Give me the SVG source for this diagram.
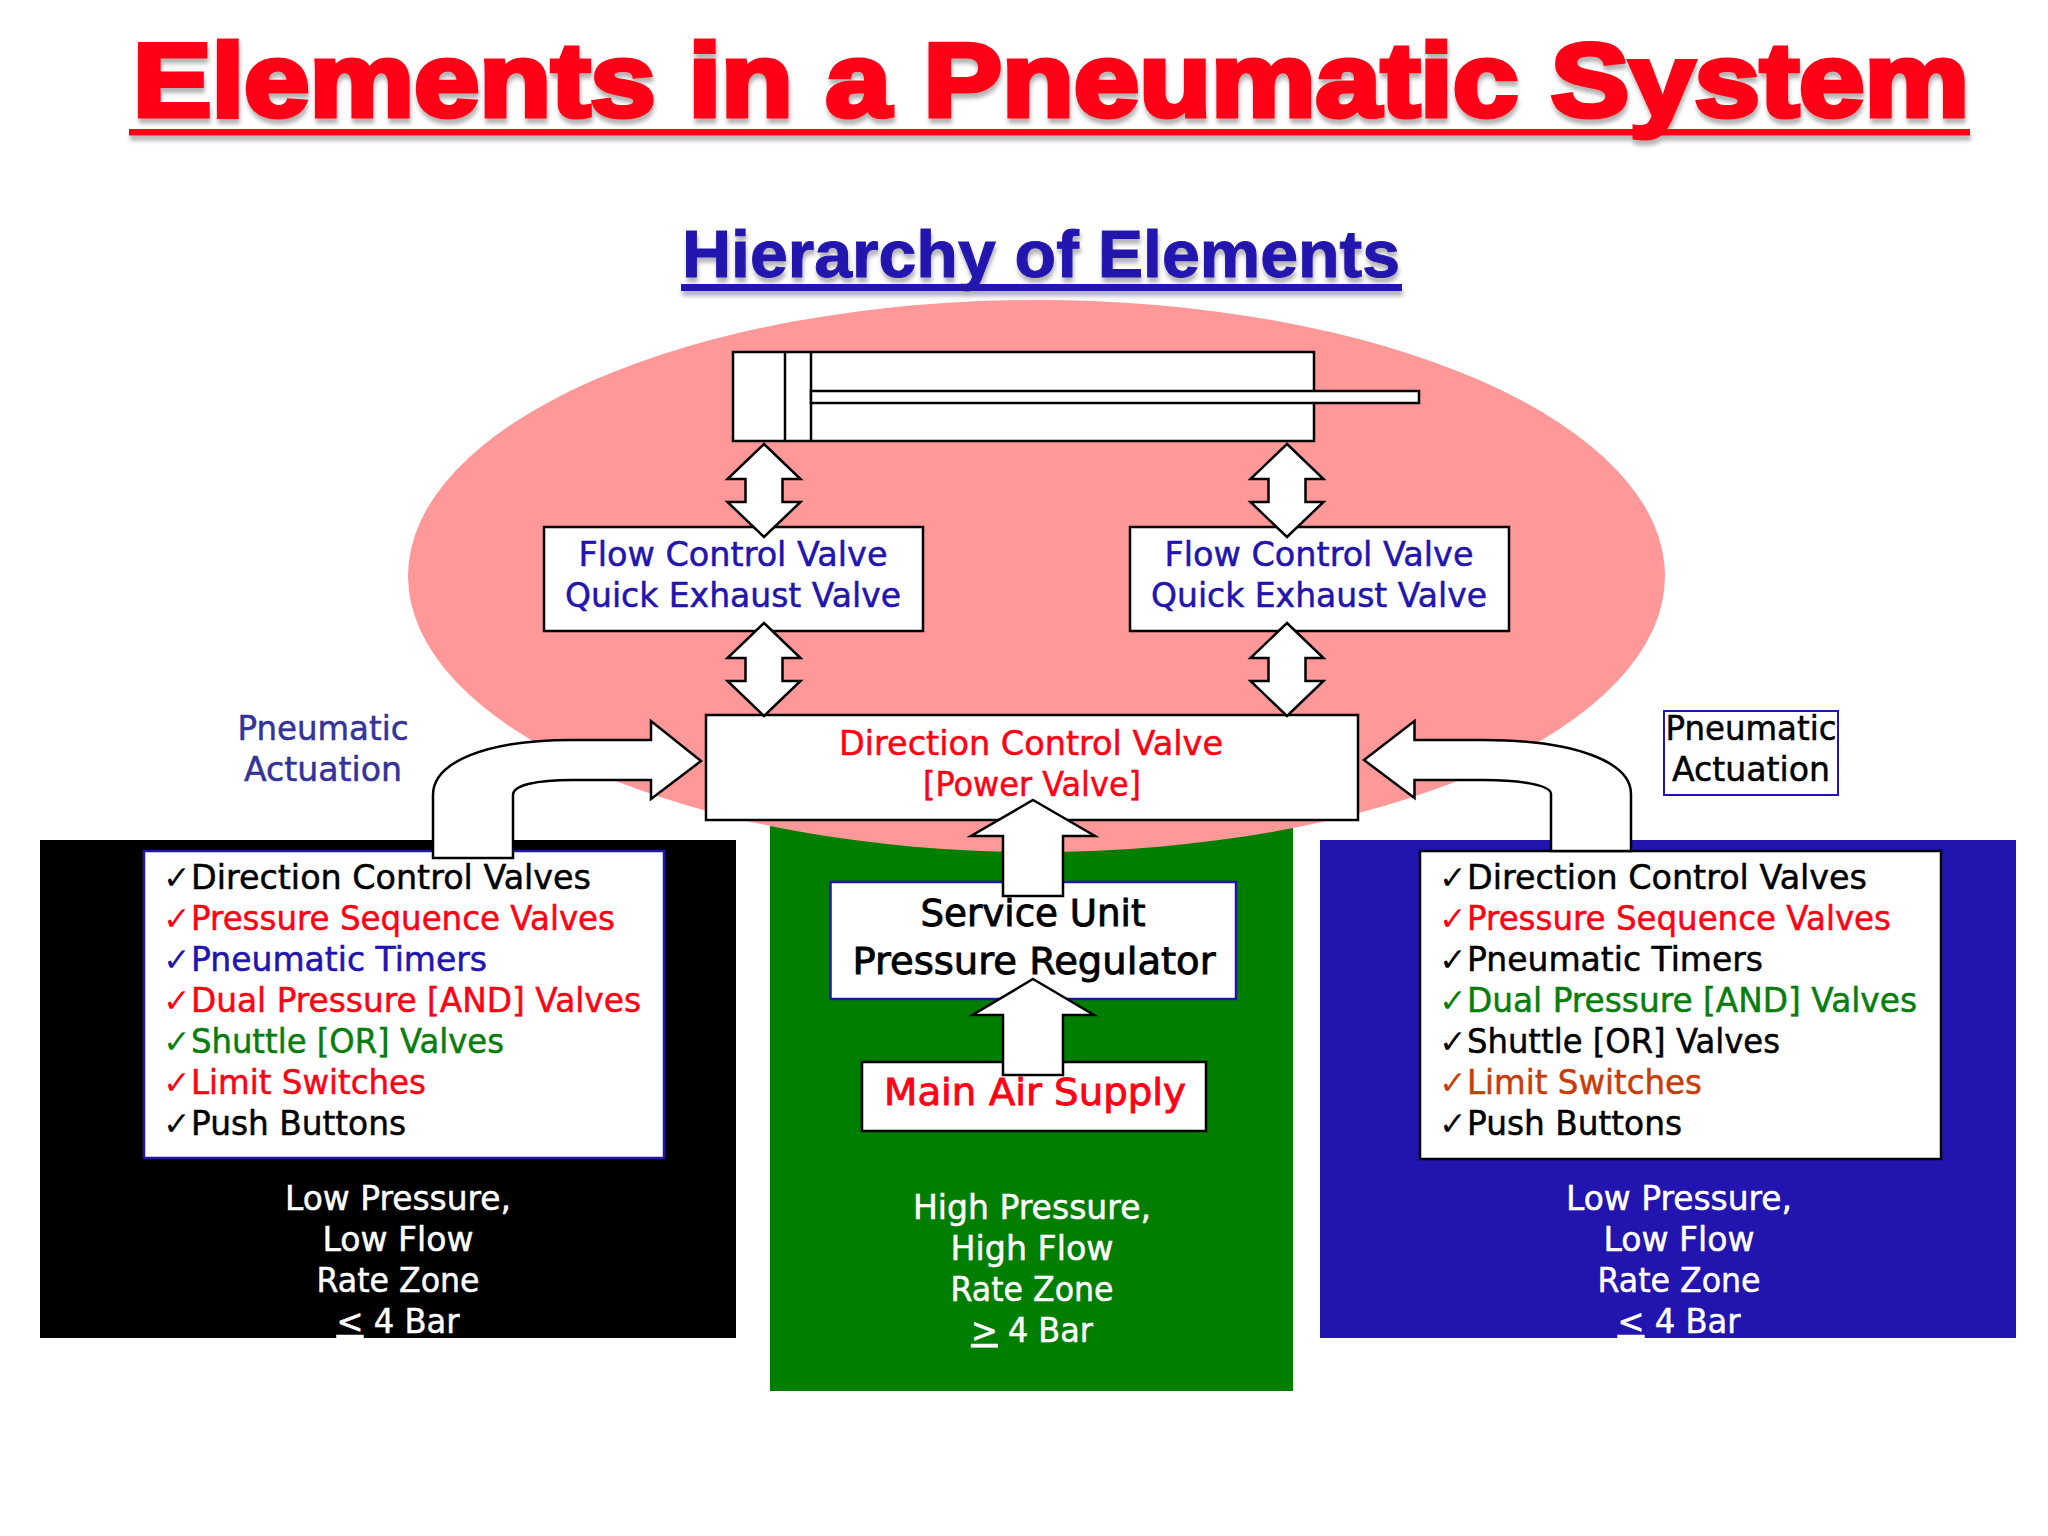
<svg xmlns="http://www.w3.org/2000/svg" width="2048" height="1536" viewBox="0 0 2048 1536">
<defs>
<filter id="sh" x="-5%" y="-20%" width="110%" height="150%"><feDropShadow dx="1" dy="5" stdDeviation="2" flood-color="#000" flood-opacity="0.3"/></filter>
<path id="dbl" d="M0 0L36.500 35H18.500V58H36.500L0 93L-36.500 58H-18.500V35H-36.500Z"/>
</defs>
<style>
text{font-family:"DejaVu Sans","Liberation Sans",sans-serif;text-anchor:middle;stroke-width:.5px}
.t{font-family:"Liberation Sans",Arial,sans-serif;font-weight:bold}
.l{font-size:33px;text-anchor:start}
.c{font-size:33px;text-anchor:start;stroke-width:0}
.z{font-size:33px;fill:#fff;stroke:#fff}
.f{font-size:33px;fill:#2214ae;stroke:#2214ae}
.r{fill:#ff0014;stroke:#ff0014}.k{fill:#000;stroke:#000}.b{fill:#2214ae;stroke:#2214ae}.g{fill:#067d0c;stroke:#067d0c}.o{fill:#c83c0a;stroke:#c83c0a}
.box{fill:#fff;stroke:#000;stroke-width:2.500}
.bb{fill:#fff;stroke:#2214ae;stroke-width:2.500}
.ar{fill:#fff;stroke:#000;stroke-width:2.500;stroke-linejoin:miter}
</style>
<rect width="2048" height="1536" fill="#fff"/>
<g id="title" filter="url(#sh)">
<text class="t" x="1051" y="116" font-size="104" fill="#ff0014" stroke="#ff0014" style="stroke-width:5px" textLength="1836" lengthAdjust="spacingAndGlyphs">Elements in a Pneumatic System</text>
<rect x="129" y="129" width="1841" height="6.500" fill="#ff0014"/>
</g>
<g id="subtitle" filter="url(#sh)">
<text class="t" x="1041" y="277" font-size="66" fill="#2214ae" stroke="#2214ae" style="stroke-width:1px" textLength="718" lengthAdjust="spacingAndGlyphs">Hierarchy of Elements</text>
<rect x="681" y="284" width="721" height="7" fill="#2214ae"/>
</g>
<g id="zone-left">
<rect x="40" y="840" width="696" height="498" fill="#000"/>
<text class="z" x="398" y="1210" textLength="226" lengthAdjust="spacingAndGlyphs">Low Pressure,</text>
<text class="z" x="398" y="1251" textLength="151" lengthAdjust="spacingAndGlyphs">Low Flow</text>
<text class="z" x="398" y="1292" textLength="163" lengthAdjust="spacingAndGlyphs">Rate Zone</text>
<text class="z" x="398" y="1333" textLength="123" lengthAdjust="spacingAndGlyphs"><tspan text-decoration="underline">&lt;</tspan> 4 Bar</text>
</g>
<g id="zone-centre">
<rect x="770" y="820" width="523" height="571" fill="#007e00"/>
</g>
<g id="zone-right">
<rect x="1320" y="840" width="696" height="498" fill="#2214ae"/>
<text class="z" x="1679" y="1210" textLength="226" lengthAdjust="spacingAndGlyphs">Low Pressure,</text>
<text class="z" x="1679" y="1251" textLength="151" lengthAdjust="spacingAndGlyphs">Low Flow</text>
<text class="z" x="1679" y="1292" textLength="163" lengthAdjust="spacingAndGlyphs">Rate Zone</text>
<text class="z" x="1679" y="1333" textLength="123" lengthAdjust="spacingAndGlyphs"><tspan text-decoration="underline">&lt;</tspan> 4 Bar</text>
</g>
<ellipse id="oval" cx="1036.500" cy="576" rx="628.500" ry="276" fill="#ff9999"/>
<g id="high-pressure-label">
<text class="z" x="1032" y="1219" textLength="238" lengthAdjust="spacingAndGlyphs">High Pressure,</text>
<text class="z" x="1032" y="1260" textLength="163" lengthAdjust="spacingAndGlyphs">High Flow</text>
<text class="z" x="1032" y="1301" textLength="163" lengthAdjust="spacingAndGlyphs">Rate Zone</text>
<text class="z" x="1032" y="1342" textLength="122" lengthAdjust="spacingAndGlyphs"><tspan text-decoration="underline">&gt;</tspan> 4 Bar</text>
</g>
<g id="cylinder">
<rect class="box" x="733" y="352" width="581" height="89"/>
<line x1="785" y1="352" x2="785" y2="441" stroke="#000" stroke-width="2.500"/>
<line x1="811" y1="352" x2="811" y2="441" stroke="#000" stroke-width="2.500"/>
<rect class="box" x="811" y="391" width="608" height="12"/>
</g>
<g id="fcv-left">
<rect class="box" x="544" y="527" width="379" height="104"/>
<text class="f" x="733" y="566" textLength="309" lengthAdjust="spacingAndGlyphs">Flow Control Valve</text>
<text class="f" x="733" y="607" textLength="336" lengthAdjust="spacingAndGlyphs">Quick Exhaust Valve</text>
</g>
<g id="fcv-right">
<rect class="box" x="1130" y="527" width="379" height="104"/>
<text class="f" x="1319" y="566" textLength="309" lengthAdjust="spacingAndGlyphs">Flow Control Valve</text>
<text class="f" x="1319" y="607" textLength="336" lengthAdjust="spacingAndGlyphs">Quick Exhaust Valve</text>
</g>
<g id="dcv">
<rect class="box" x="706" y="715" width="652" height="105"/>
<text class="r" font-size="33" x="1031" y="755" textLength="384" lengthAdjust="spacingAndGlyphs">Direction Control Valve</text>
<text class="r" font-size="33" x="1032" y="796" textLength="218" lengthAdjust="spacingAndGlyphs">[Power Valve]</text>
</g>
<g id="pa-left">
<text font-size="33" fill="#333399" stroke="#333399" x="323" y="740" textLength="171" lengthAdjust="spacingAndGlyphs">Pneumatic</text>
<text font-size="33" fill="#333399" stroke="#333399" x="323" y="781" textLength="158" lengthAdjust="spacingAndGlyphs">Actuation</text>
</g>
<g id="pa-right">
<rect x="1664" y="711" width="174" height="84" fill="#fff" stroke="#2214ae" stroke-width="2"/>
<text class="k" font-size="33" x="1751" y="740" textLength="171" lengthAdjust="spacingAndGlyphs">Pneumatic</text>
<text class="k" font-size="33" x="1751" y="781" textLength="158" lengthAdjust="spacingAndGlyphs">Actuation</text>
</g>
<g id="list-left">
<rect class="bb" x="144" y="851" width="520" height="307"/>
<text class="c k" x="163" y="889">✓</text><text class="l k" x="191" y="889" textLength="400" lengthAdjust="spacingAndGlyphs">Direction Control Valves</text>
<text class="c r" x="163" y="930">✓</text><text class="l r" x="191" y="930" textLength="424" lengthAdjust="spacingAndGlyphs">Pressure Sequence Valves</text>
<text class="c b" x="163" y="971">✓</text><text class="l b" x="191" y="971" textLength="296" lengthAdjust="spacingAndGlyphs">Pneumatic Timers</text>
<text class="c r" x="163" y="1012">✓</text><text class="l r" x="191" y="1012" textLength="450" lengthAdjust="spacingAndGlyphs">Dual Pressure [AND] Valves</text>
<text class="c g" x="163" y="1053">✓</text><text class="l g" x="191" y="1053" textLength="313" lengthAdjust="spacingAndGlyphs">Shuttle [OR] Valves</text>
<text class="c r" x="163" y="1094">✓</text><text class="l r" x="191" y="1094" textLength="235" lengthAdjust="spacingAndGlyphs">Limit Switches</text>
<text class="c k" x="163" y="1135">✓</text><text class="l k" x="191" y="1135" textLength="215" lengthAdjust="spacingAndGlyphs">Push Buttons</text>
</g>
<g id="list-right">
<rect class="box" x="1420" y="851" width="521" height="308"/>
<text class="c k" x="1439" y="889">✓</text><text class="l k" x="1467" y="889" textLength="400" lengthAdjust="spacingAndGlyphs">Direction Control Valves</text>
<text class="c r" x="1439" y="930">✓</text><text class="l r" x="1467" y="930" textLength="424" lengthAdjust="spacingAndGlyphs">Pressure Sequence Valves</text>
<text class="c k" x="1439" y="971">✓</text><text class="l k" x="1467" y="971" textLength="296" lengthAdjust="spacingAndGlyphs">Pneumatic Timers</text>
<text class="c g" x="1439" y="1012">✓</text><text class="l g" x="1467" y="1012" textLength="450" lengthAdjust="spacingAndGlyphs">Dual Pressure [AND] Valves</text>
<text class="c k" x="1439" y="1053">✓</text><text class="l k" x="1467" y="1053" textLength="313" lengthAdjust="spacingAndGlyphs">Shuttle [OR] Valves</text>
<text class="c o" x="1439" y="1094">✓</text><text class="l o" x="1467" y="1094" textLength="235" lengthAdjust="spacingAndGlyphs">Limit Switches</text>
<text class="c k" x="1439" y="1135">✓</text><text class="l k" x="1467" y="1135" textLength="215" lengthAdjust="spacingAndGlyphs">Push Buttons</text>
</g>
<g id="service-unit">
<rect class="bb" x="830.500" y="882" width="405.500" height="117"/>
<text class="k" font-size="38" style="stroke-width:.9px" x="1033" y="926" textLength="225" lengthAdjust="spacingAndGlyphs">Service Unit</text>
<text class="k" font-size="38" style="stroke-width:.9px" x="1034" y="974" textLength="363" lengthAdjust="spacingAndGlyphs">Pressure Regulator</text>
</g>
<g id="main-air">
<rect class="box" x="862" y="1062" width="344" height="69"/>
<text class="r" font-size="38" style="stroke-width:.9px" x="1035" y="1105" textLength="302" lengthAdjust="spacingAndGlyphs">Main Air Supply</text>
</g>
<g id="connectors">
<use href="#dbl" class="ar" x="764" y="444"/>
<use href="#dbl" class="ar" x="1287" y="444"/>
<use href="#dbl" class="ar" x="764" y="623"/>
<use href="#dbl" class="ar" x="1287" y="623"/>
<path class="ar" d="M433 858V795C433 762 486 740 572 740H651V721L701 761L651 799V780H572C537 780 513 785 513 795V858Z"/>
<path class="ar" d="M1631 851V794C1631 762 1575 740 1484 740H1414.500V721L1364 760L1414.500 798V780H1484C1520 780 1551 785 1551 794V851Z"/>
<path class="ar" d="M1033 800L1095 836H1063V896H1003V836H971Z"/>
<path class="ar" d="M1033 979L1094 1015H1063V1075H1003V1015H972.500Z"/>
</g>
</svg>
